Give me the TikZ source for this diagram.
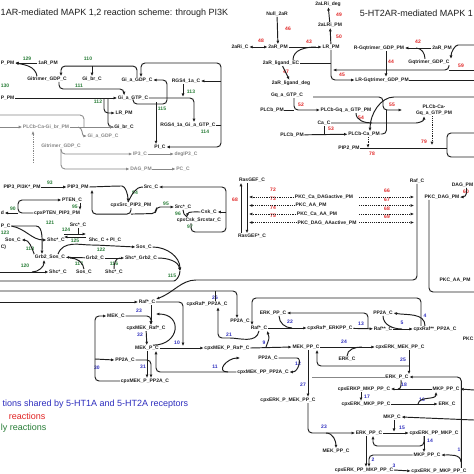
\documentclass[tikz,border=0pt]{standalone}
\usepackage{fontspec}
\setmainfont{Liberation Sans}
\usetikzlibrary{arrows.meta,calc}
\definecolor{cg}{RGB}{40,125,55}
\definecolor{cr}{RGB}{225,35,35}
\definecolor{cb}{RGB}{45,45,190}
\definecolor{cgr}{RGB}{135,135,135}
\definecolor{ck}{RGB}{30,30,30}
\newcommand\nf{\fontsize{5}{6}\selectfont\bfseries}
\begin{document}
\begin{tikzpicture}[x=1pt,y=-1pt,
 every node/.style={font=\nf,text=ck,inner sep=0.6pt},
 gtx/.style={text=cgr},
 ng/.style={text=cg},
 nr/.style={text=cr},
 nb/.style={text=cb},
 ttl/.style={font=\fontsize{9}{10}\selectfont},
 ln/.style={draw=ck,line width=0.95pt,rounded corners=4pt},
 ar/.style={ln,-{Latex[length=3.4pt,width=3pt]}},
 dbl/.style={draw=ck,line width=0.95pt,{Latex[length=3.4pt,width=3pt]}-{Latex[length=3.4pt,width=3pt]}},
 gl/.style={draw=cgr,line width=0.85pt,rounded corners=4pt},
 gar/.style={gl,-{Latex[length=3.4pt,width=3pt]}},
 dar/.style={draw=ck,line width=0.85pt,densely dotted,-{Latex[length=3.4pt,width=3pt]}},
]
\useasboundingbox[fill=white] (0,0) rectangle (474,474);

% ---------- titles ----------
\node[ttl,anchor=east] (t1) at (229,13) {1AR-mediated MAPK 1,2 reaction scheme: through PI3K};
\node[ttl,anchor=west] (t2) at (359,13) {5-HT2AR-mediated MAPK 1};

% ---------- 5-HT1A top-left ----------
\node[anchor=west] (pm1) at (0,63) {P\_PM};
\node[ng] (l129) at (27,59) {129};
\node (aR1) at (48,63) {1aR\_PM};
\node (gitrim) at (47,79) {Gitrimer\_GDP\_C};
\node[ng,anchor=west] (l130) at (0,86) {130};
\node (gibg1) at (92,79) {Gi\_br\_C};
\node[ng] (l110) at (88,59) {110};
\node (giaGDP) at (137,80) {Gi\_a\_GDP\_C};
\node (rgs) at (186,81) {RGS4\_1a\_C};
\node[ng] (l111) at (79,86) {111};
\node (giaGTP) at (133,98) {Gi\_a\_GTP\_C};
\node[anchor=west] (pm2) at (0,98) {P\_PM};
\node[ng] (l113) at (191,92) {113};
\node[ng] (l112) at (98,102) {112};
\node (lrpm) at (124,113) {LR\_PM};
\node (gibg2) at (124,127) {Gi\_br\_C};
\node[ng] (l115) at (162,109) {115};
\node (rgsg) at (188,125) {RGS4\_1a\_Gi\_a\_GTP\_C};
\node[ng] (l114) at (205,132) {114};
\node (pic) at (160,147) {PI\_C};
\node[gtx] (plcgi) at (46,127) {PLCb-Ca-Gi\_br\_PM};
\node[gtx] (giaGDPg) at (103,136) {Gi\_a\_GDP\_C};
\node[gtx] (gitrimg) at (61,146) {Gitrimer\_GDP\_C};
\node[gtx] (ip3) at (140,154) {IP3\_C};
\node[gtx] (degip3) at (186,154) {degIP3\_C};
\node[gtx] (dagpm) at (141,169) {DAG\_PM};
\node[gtx] (pcc) at (183,169) {PC\_C};

\draw[ar] (aR1) -- (pm1);
\draw[ar] ([xshift=-10pt]gitrim.north) to[out=100,in=-10] (pm1.east);
\draw[ar] (giaGDP.north) -- ++(0,-11) -| ([xshift=14pt]gitrim.north);
\draw[ar] (gibg1.north) ++(0,-10) -- (gibg1.north);
\coordinate (rr) at (221,125);
\draw[ln] (rgsg.east) -- (rr);
\draw[ar] (rr) -- (221,63) -| ([xshift=4pt]giaGDP.north);
\draw[ar] (221,81) -- (rgs.east);
\draw[ar] (rr) |- (pic.east);
\draw[ar] (pm2) -- (giaGTP);
\draw[ar] ([xshift=12pt]gitrim.south) |- (124,89) -- ([xshift=-9pt]giaGTP.north);
\draw[ar] (104,98) |- (lrpm.west);
\draw[ar] (108,98) |- (gibg2.west);
\draw[ar] (giaGTP.east) -| ([xshift=6pt]rgsg.north);
\draw[ar] ([xshift=-3pt]rgs.south) -- ++(0,13);
\draw[ar] (giaGTP.south) |- (167,104) |- (giaGDP.east);
\draw[ar] ([xshift=-4pt]pic.north) ++(0,-42) -- ([xshift=-4pt]pic.north);

\draw[gar] (0,127) -- (plcgi.west);
\draw[gl] (0,115) -- (84,115) -- (84,127);
\draw[gar] (plcgi.east) -- (gibg2.west);
\draw[gar] (78,127) to[out=0,in=180] (giaGDPg.west);
\draw[draw=cgr,line width=0.8pt,densely dotted,-{Latex[length=3.4pt,width=3pt]}] (33,163) -- (33,131);
\draw[gar] (gitrimg.south) |- (ip3.west);
\draw[gar] (gitrimg.south) |- (dagpm.west);
\draw[gar] (ip3) -- (degip3);
\draw[gar] (dagpm) -- (pcc);

% ---------- 5-HT2A top ----------
\node (null2aR) at (277,14) {Null\_2aR};
\node[nr] (l46) at (288,29) {46};
\node (ri2a) at (240,47) {2aRi\_C};
\node[nr] (l48) at (261,41) {48};
\node (r2a) at (278,47) {2aR\_PM};
\node[nr] (l43) at (309,42) {43};
\node (lig) at (281,63) {2aR\_ligand\_EC};
\node[nr] (l47) at (286,72) {47};
\node (ligdeg) at (291,83) {2aR\_ligand\_deg};
\node (gqgtp) at (287,95) {Gq\_a\_GTP\_C};
\node (plcb1) at (272,110) {PLCb\_PM};
\node[nr] (l52) at (301,105) {52};
\node (plcb2) at (292,135) {PLCb\_PM};
\node (lrideg) at (328,4) {2aLRi\_deg};
\node[nr] (l49) at (339,15) {49};
\node (lri) at (330,25) {2aLRi\_PM};
\node[nr] (l50) at (339,37) {50};
\node (lr2) at (331,47) {LR\_PM};
\node (rgq) at (379,48) {R-Gqtrimer\_GDP\_PM};
\node[nr] (l42) at (418,42) {42};
\node (r2b) at (442,48) {2aR\_PM};
\node (gqtrim) at (429,62) {Gqtrimer\_GDP\_C};
\node[nr] (l44) at (391,62) {44};
\node[nr] (l45) at (342,75) {45};
\node (lrgq) at (382,80) {LR-Gqtrimer\_GDP\_PM};
\node[nr] (l59) at (461,66) {59};
\node (plcgq) at (346,110) {PLCb-Gq\_a\_GTP\_PM};
\node[align=center] (plccagq) at (434,110) {PLCb-Ca-\\Gq\_a\_GTP\_PM};
\node[nr] (l55) at (392,105) {55};
\node[nr] (l54) at (361,118) {54};
\node (cac) at (324,123) {Ca\_C};
\node[nr] (l53) at (331,129) {53};
\node (plcca) at (364,134) {PLCb-Ca\_PM};
\node (pip2) at (349,148) {PIP2\_PM};
\node[nr] (l78) at (372,154) {78};
\node[nr] (l79) at (424,142) {79};

\draw[ar] (null2aR) -- (r2a);
\draw[dbl] (ri2a) -- (r2a);
\draw[ar] (r2a) -- (lr2);
\draw[ln] ([xshift=12pt]lig.north) to[out=90,in=180] (316,47);
\draw[ar] (lig) -- (ligdeg);
\draw[ln] (lig.east) -- (331,63);
\draw[ar] ([xshift=7pt]gqgtp.south) |- (plcgq.west);
\draw[ln] (plcb1.east) -- ([xshift=7pt]gqgtp.south |- plcb1.east);
\draw[ar] (plcb2) -- (plcca);
\draw[ln] (cac.south) -- (cac.south |- plcca.west);
\draw[ar] (cac.east) -- (412,123) to[out=0,in=-90] ([xshift=-10pt]plccagq.south);
\draw[ln] ([xshift=10pt]plcgq.south) to[out=-90,in=180] (372,123);
\draw[ar] (313,97) -- (383,97) |- (402,110);
\draw[ar] (474,97) -- (398,97) to[out=180,in=90] ([xshift=6pt]plcca.north);
\draw[ln] (plcca.east) -- ++(6,0) -- ++(0,-24);
\draw[dar] ([xshift=4pt]plcca.south) -- ++(0,11);
\draw[dar] ([xshift=-2pt]plccagq.south) -- ++(0,29);
\draw[ln] (pip2.east) -- (447,148);
\draw[ln] (474,133) -- (447,133) -- (447,157) -- (474,157);
\draw[ar] (lr2) -- (lri);
\draw[ar] (lri) -- (lrideg);
\draw[ar] (r2b) -- (rgq);
\draw[ln] ([xshift=-4pt]gqtrim.north) to[out=90,in=0] (416,48);
\draw[ar] ([xshift=7pt]rgq.south) -- ([xshift=4pt]lrgq.north);
\draw[ar] ([xshift=20pt]gqtrim.south) |- (333,70);
\draw[ar] (lr2.south) |- (lrgq.west);
\draw[ln] (lrgq.east) -- (474,80);
\draw[ar] (474,45) -- (462,45) to[out=180,in=90] ([xshift=22pt]gqtrim.north);
\draw[ln] (474,70) -- (449,70);

% ---------- PIP3 / Src / Shc / Grb2 ----------
\node (pip3pi3k) at (22,187) {PIP3\_PI3K*\_PM};
\node[ng] (l93) at (50,183) {93};
\node (pip3) at (78,187) {PIP3\_PM};
\node (srcc) at (151,187) {Src\_C};
\node[ng] (l94) at (135,193) {94};
\node (cpxsrc) at (131,205) {cpxSrc\_PIP3\_PM};
\node (ptenc) at (72,200) {PTEN\_C};
\node[ng] (l95a) at (75,207) {95};
\node (cpxpten) at (57,213) {cpxPTEN\_PIP3\_PM};
\node[ng] (l90) at (13,209) {90};
\node[anchor=west] (dtx) at (0,213) {d};
\node[anchor=west] (pc) at (0,226) {P\_C};
\node[ng] (l121) at (50,223) {121};
\node[ng,anchor=west] (l123) at (0,233) {123};
\node (sosl) at (13,240) {Sos\_C};
\node[anchor=west] (cpar) at (0,247) {C)};
\node (srcs) at (78,225) {Src*\_C};
\node[ng] (l124) at (66,230) {124};
\node (shcs1) at (56,240) {Shc*\_C};
\node[ng] (l125) at (75,241) {125};
\node (shcpi) at (105,240) {Shc\_C + PI\_C};
\node[ng] (l118) at (30,249) {118};
\node[ng] (l122) at (101,250) {122};
\node (sosr) at (144,247) {Sos\_C};
\node (grbsos) at (50,257) {Grb2\_Sos\_C};
\node (grb2) at (95,258) {Grb2\_C};
\node (shcgrb) at (141,258) {Shc*\_Grb2\_C};
\node[ng] (l117) at (79,264) {117};
\node (sos3) at (84,272) {Sos\_C};
\node[ng] (l116) at (114,264) {116};
\node (shcs2) at (114,272) {Shc*\_C};
\node[ng] (l120) at (25,266) {120};
\node (shcs3) at (58,272) {Shc*\_C};
\node[ng] (l119) at (172,276) {115};
\node (srcs2) at (183,207) {Src*\_C};
\node[ng] (l95b) at (166,204) {95};
\node (cskc) at (209,212) {Csk\_C};
\node[ng] (l96) at (178,214) {96};
\node (cpxcsk) at (199,220) {cpxCsk\_Srcstar\_C};
\node[ng] (l97) at (190,227) {97};

\draw[ar] (pip3pi3k) -- (pip3);
\draw[ar] (pip3.east) -- (118,186) to[out=0,in=90] ([xshift=-3pt]cpxsrc.north);
\draw[ln] (srcc.west) to[out=180,in=60] ([xshift=-3pt]cpxsrc.north);
\draw[ar] (cpxsrc.south) -- ++(0,6) -| ([xshift=14pt]pip3.south);
\draw[ar] (cpxsrc.south) ++(0,6) -- (156,213.5) |- (srcs2.west);
\draw[ar] ([xshift=-8pt]cpxcsk.south) |- (226,232) |- (srcc.east);
\draw[ar] (226,212) -- (cskc.east);
\draw[ar] (cskc.west) to[out=180,in=80] ([xshift=-12pt]cpxcsk.north);
\draw[ln] (srcs2.south) to[out=-90,in=150] ([xshift=-12pt]cpxcsk.north);
\draw[ar] ([xshift=8pt]ptenc.south) -- ([xshift=23pt]cpxpten.north);
\draw[ar] (cpxpten.west) -- (18,213) |- (ptenc.west);
\draw[ar] (18,213) -- (dtx.east);
\draw[ar] (pc.east) -- (32,226) to[out=0,in=90] ([xshift=-8pt]grbsos.north);
\draw[ar] (pc.east) to[out=-10,in=180] (shcs1.west);
\draw[ar] (64,234) -- (86,234);
\draw[ar] (86,237) -- (64,237);
\draw[ln] (srcs.south) -- ++(0,7);
\draw[ar] (grbsos.north west) to[out=110,in=0] (sosl.east);
\draw[ar] ([xshift=8pt]grbsos.north) to[out=70,in=180] (95,245) -- (sosr.west);
\draw[ar] (grb2) -- (grbsos);
\draw[ar] (grb2) -- (shcgrb);
\draw[ln] (sos3.north) to[out=95,in=0] (70,258);
\draw[ln] (shcs2.north) to[out=90,in=180] (120,258);
\draw[ar] (0,272) -- (shcs3.west);
\draw[ar] (32,272) to[out=0,in=-90] ([xshift=-6pt]grbsos.south);
\draw[ar] (sosr.east) to[out=0,in=90] (180,271);
\draw[ar] (shcgrb.east) to[out=0,in=100] (180,271);
\draw[ln] (180,271) to[out=-90,in=0] (170,281) -- (0,281);

% ---------- RasGEF / PKC ----------
\node (rasgef) at (252,180) {RasGEF\_C};
\node (rasgefs) at (252,236) {RasGEF*\_C};
\node[nr] (l68a) at (235,200) {68};
\node (pkc1) at (324,197) {PKC\_Ca\_DAGactive\_PM};
\node (pkc2) at (311,205.5) {PKC\_AA\_PM};
\node (pkc3) at (317,214) {PKC\_Ca\_AA\_PM};
\node (pkc4) at (327,222.5) {PKC\_DAG\_AAactive\_PM};
\node[nr] (l72) at (273,190) {72};
\node[nr] (l73) at (273,199) {73};
\node[nr] (l74) at (273,207.5) {74};
\node[nr] (l75) at (273,216) {75};
\node[nr] (l66) at (387,191) {66};
\node[nr] (l67) at (387,200) {67};
\node[nr] (l68) at (387,208.5) {68};
\node[nr] (l69) at (387,217) {69};
\node (rafc) at (417,181) {Raf\_C};
\node[anchor=east] (dagpm2) at (474,185) {DAG\_PM};
\node[nr] (l60) at (466,192) {60};
\node (pkcdag) at (442,197) {PKC\_DAG\_PM};
\node (pkcaa) at (455,280) {PKC\_AA\_PM};

\draw[ar] ([xshift=-11pt]rasgefs.north) -- ([xshift=-11pt]rasgef.south);
\draw[ar] ([xshift=-5pt]rasgef.south) -- ([xshift=-5pt]rasgefs.north);
\draw[dar] (pkc1.west) -- (249,197);
\draw[dar] (pkc2.west) -- (249,205.5);
\draw[dar] (pkc3.west) -- (249,214);
\draw[dar] (pkc4.west) -- (249,222.5);
\draw[dar] (359,197) -- (414,197);
\draw[dar] (359,205.5) -- (414,205.5);
\draw[dar] (359,214) -- (414,214);
\draw[dar] (359,222.5) -- (414,222.5);
\draw[ar] ([xshift=4pt]dagpm2.south) |- (pkcdag.east);
\draw[ln] ([xshift=-13pt]pkcdag.south) |- (474,292);

% ---------- MAPK cascade ----------
\node (rafs) at (147,302) {Raf*\_C};
\node[nb] (l23a) at (139,311) {23};
\node (cpxrafpp) at (207,304) {cpxRaf*\_PP2A\_C};
\node[nb] (l26) at (215,298) {26};
\node (pp2a1) at (240,321) {PP2A\_C};
\node (mekc) at (116,316) {MEK\_C};
\node (cpxmekraf) at (146,328) {cpxMEK\_Raf*\_C};
\node[nb] (l32) at (140,335) {32};
\node (mekp) at (147,348) {MEK\_P\_C};
\node[nb] (l10) at (177,343) {10};
\node (cpxmekpraf) at (227,348) {cpxMEK\_P\_Raf*\_C};
\node (pp2a2) at (125,360) {PP2A\_C};
\node[nb] (l31) at (143,367) {31};
\node[nb] (l30) at (97,368) {30};
\node (cpxmekpp2a) at (145,381) {cpxMEK\_P\_PP2A\_C};
\node[nb] (l11) at (215,367) {11};
\node (cpxmekpppp2a) at (263,372) {cpxMEK\_PP\_PP2A\_C};
\node[nb] (l21) at (229,335) {21};
\node (rafs2) at (259,328) {Raf*\_C};
\node[nb] (l9) at (264,343) {9};
\node (mekpp) at (306,347) {MEK\_PP\_C};
\node (pp2a3) at (268,358) {PP2A\_C};
\node[nb] (l12) at (298,364) {12};
\node[nb] (l27) at (303,385) {27};
\node (cpxerkpmek) at (288,400) {cpxERK\_P\_MEK\_PP\_C};
\node (erkpp1) at (273,313) {ERK\_PP\_C};
\node[nb] (l22) at (290,322) {22};
\node (cpxraferk) at (330,328) {cpxRaf*\_ERKPP\_C};
\node[nb] (l13) at (361,324) {13};
\node (rafss) at (383,329) {Raf**\_C};
\node[nb] (l5) at (402,323) {5};
\node (cpxrafss) at (435,329) {cpxRaf**\_PP2A\_C};
\node (pp2a4) at (383,313) {PP2A\_C};
\node[nb] (l4) at (425,316) {4};
\node[anchor=west] (pkcpart) at (462,339) {PKC};
\node[nb] (l24) at (344,342) {24};
\node (cpxerkmek) at (400,347) {cpxERK\_MEK\_PP\_C};
\node (erkc1) at (347,359) {ERK\_C};
\node[nb] (l25) at (403,360) {25};
\node (erkp) at (397,377) {ERK\_P\_C};
\node[nb] (l18) at (404,385) {18};
\node (cpxerkpmkp) at (364,389) {cpxERKP\_MKP\_PP\_C};
\node (mkppp1) at (446,389) {MKP\_PP\_C};
\node[nb] (l17) at (367,397) {17};
\node (cpxerkmkp) at (366,404) {cpxERK\_MKP\_PP\_C};
\node[nb] (l16) at (422,400) {16};
\node (erkc2) at (447,404) {ERK\_C};
\node (mkpc) at (392,417) {MKP\_C};
\node[nb] (l15) at (402,428) {15};
\node[nb] (l23b) at (324,427) {23};
\node (erkpp2) at (369,433) {ERK\_PP\_C};
\node (cpxerkppmkp) at (434,433) {cpxERK\_PP\_MKP\_C};
\node[nb] (l14) at (430,441) {14};
\node (mekpp2) at (336,451) {MEK\_PP\_C};
\node (mkppp2) at (427,455) {MKP\_PP\_C};
\node[nb] (l1) at (459,450) {1};
\node[nb] (l2) at (373,460) {2};
\node (cpxerkppmkppp) at (364,470) {cpxERK\_PP\_MKP\_PP\_C};
\node[nb] (l3) at (394,466) {3};
\node (cpxerkpmkppp) at (439,471) {cpxERK\_P\_MKP\_PP\_C};

\draw[ar] (rafc.south) |- (200,280) to[out=180,in=20] (rafs.north east);
\draw[ar] (0,302) -- (rafs.west);
\draw[ar] (0,291) -| ([xshift=-3pt]pp2a1.north);
\draw[ln] (215,291) -- ([xshift=8pt]cpxrafpp.north);
\draw[ar] (rafs.east) -| (183,346);
\draw[ar] ([xshift=4pt]rafs.south) -- ([xshift=5pt]cpxmekraf.north);
\draw[ar] (mekc.east) -| ([xshift=5pt]cpxmekraf.north);
\draw[ar] (cpxmekraf) -- (mekp);
\draw[ar] ([xshift=6pt]mekp.north) to[out=0,in=0,looseness=2.2] (156,314);
\draw[ar] (mekp.east) -- (cpxmekpraf.west);
\draw[ar] (pp2a2.east) -| ([xshift=6pt]cpxmekpp2a.north);
\draw[ar] (mekp.south) -- ([xshift=2pt]cpxmekpp2a.north);
\draw[ar] (cpxmekpp2a.west) -| (95,316) -- (mekc.west);
\draw[ar] (95,359) -- (pp2a2.west);
\draw[ar] (cpxmekpppp2a.west) -| ([xshift=9pt]mekp.south);
\draw[ar] (228,372) to[out=180,in=180,looseness=1.8] (240,358);
\draw[ar] (rafs2.south) to[out=-100,in=0] (226,338) -| ([xshift=11pt]cpxrafpp.south);
\draw[ar] (cpxmekpraf.east) -- (mekpp.west);
\draw[ar] (266,347) to[out=70,in=-70,looseness=1.3] ([xshift=8pt]rafs2.south);
\draw[ar] (pp2a3.east) -- (293,358) to[out=0,in=0,looseness=1.6] (cpxmekpppp2a.east);
\draw[ar] ([xshift=2pt]mekpp.south) -- ([xshift=20pt]cpxerkpmek.north);
\draw[ar] ([xshift=20pt]cpxerkpmek.south) |- (erkpp2.west);
\draw[ar] (326,433) to[out=0,in=90] (mekpp2.north);
\draw[ar] (rafs2.east) -- (cpxraferk.west);
\draw[ln] ([xshift=6pt]erkpp1.south) to[out=-90,in=180] (292,328);
\draw[ar] (cpxraferk) -- (rafss);
\draw[ar] (368,328) |- (erkpp1.east);
\draw[ar] (rafss) -- (cpxrafss);
\draw[ln] (pp2a4.south) to[out=-90,in=180] (402,329);
\draw[ar] ([xshift=-14pt]cpxrafss.north) |- (252,298) -- ([xshift=-7pt]rafs2.north);
\draw[ar] ([xshift=-10pt]cpxrafss.north) to[out=90,in=-10] (pp2a4.east);
\draw[ar] (mekpp.east) -- (cpxerkmek.west);
\draw[ln] (erkc1.north) to[out=90,in=180] (362,347);
\draw[ar] ([xshift=9pt]cpxerkmek.south) -- ([xshift=12pt]erkp.north);
\draw[ar] (409,366) -| ([xshift=11pt]mekpp.south);
\draw[gl] (312,377) -- (erkp.west);
\draw[ar] ([xshift=-6pt]cpxerkpmkppp.north east) |- (erkp.east);
\draw[ar] (461,462) to[out=90,in=0] (mkppp2.east);
\draw[ar] (mkppp1.west) -- (cpxerkpmkp.east);
\draw[ln] ([xshift=4pt]erkp.south) to[out=-90,in=0] (398,389);
\draw[ar] (474,390) -- (mkppp1.east);
\draw[ar] ([xshift=-3pt]cpxerkpmkp.south) -- ([xshift=-5pt]cpxerkmkp.north);
\draw[ar] (cpxerkmkp.east) -- (erkc2.west);
\draw[ar] (418,404) to[out=80,in=-90] ([xshift=-10pt]mkppp1.south);
\draw[ar] (474,420) -- (mkpc.east);
\draw[ar] ([xshift=2pt]mkpc.south) -- ++(0,12);
\draw[ar] (erkpp2.east) -- (cpxerkppmkp.west);
\coordinate (k14) at (373,446);
\draw[ar] ([xshift=-10pt]cpxerkppmkp.south) |- (k14) -- ([xshift=4pt]erkpp2.south);
\draw[ar] ([xshift=-10pt]cpxerkppmkp.south) -- ([xshift=-3pt]mkppp2.north);
\draw[ar] ([xshift=-3pt]erkpp2.south) -- ([xshift=2pt]cpxerkppmkppp.north);
\draw[ar] (mkppp2.west) -| ([xshift=5pt]cpxerkppmkppp.north);
\draw[ar] (cpxerkppmkppp.east) -- (cpxerkpmkppp.west);

% ---------- legend ----------
\node[font=\fontsize{9}{10}\selectfont,text=cb,anchor=east] (leg1) at (189,404) {tions shared by 5-HT1A and 5-HT2A receptors};
\node[font=\fontsize{9}{10}\selectfont,text=cr,anchor=west] (leg2) at (8,416) {reactions};
\node[font=\fontsize{9}{10}\selectfont,text=cg,anchor=west] (leg3) at (0,428) {ly reactions};
\end{tikzpicture}
\end{document}
